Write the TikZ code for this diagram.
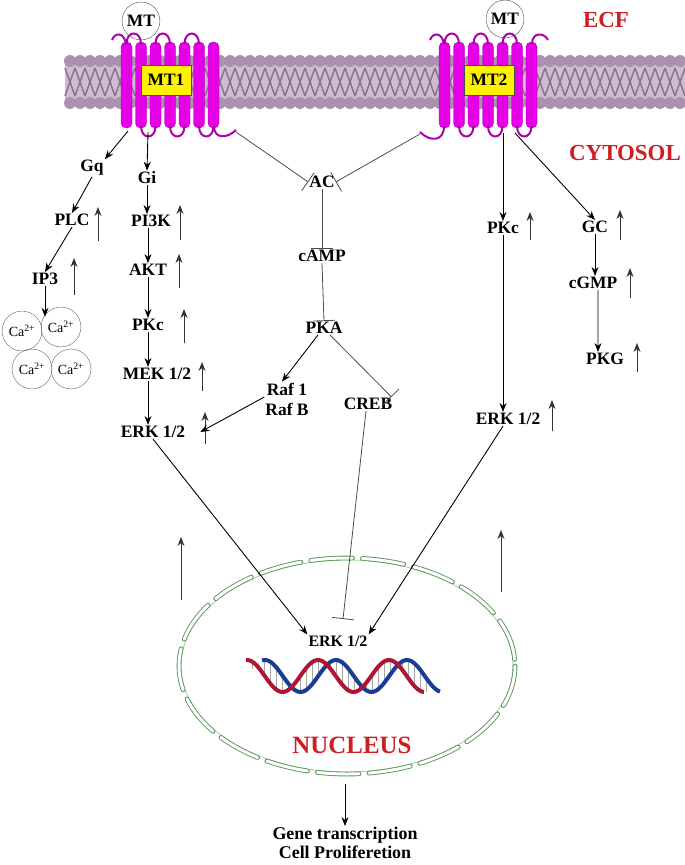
\documentclass[tikz,border=0pt]{standalone}
\usepackage{fontspec}
\setmainfont{Liberation Serif}
\usetikzlibrary{arrows.meta}
\definecolor{lip}{RGB}{170,145,175}
\definecolor{lipd}{RGB}{140,115,145}
\definecolor{ecf}{RGB}{205,30,35}
\definecolor{mag}{RGB}{230,0,230}
\definecolor{dnar}{RGB}{175,20,50}
\definecolor{dnab}{RGB}{25,60,150}
\definecolor{nuc}{RGB}{90,150,90}
\begin{document}
\begin{tikzpicture}[x=1bp,y=-1bp,
  lab/.style={font=\fontsize{17.5}{19}\selectfont\bfseries, inner sep=1pt},
  red/.style={font=\fontsize{23}{24}\selectfont\bfseries, text=ecf},
  act/.style={-{Stealth[length=9pt,width=7pt]}, line width=0.9pt},
  up/.style={-{Stealth[length=9pt,width=7pt]}, line width=0.9pt, black!80},
  inh/.style={-{Bar[width=22pt]}, line width=0.8pt, black!70},
  hel/.style={fill=mag, draw=mag!75!black, rounded corners=5pt},
  loop/.style={draw=mag!75!black, line width=2pt}]
\useasboundingbox (0,0) rectangle (685,865);
% membrane
\fill[lip!60] (65,58) rectangle (685,106);
\foreach \i in {0,...,61}{
  \fill[lip] (70+10*\i,61) circle (6);
  \fill[lip] (70+10*\i,103) circle (6);
  \draw[lipd, line width=1.5pt] (65+10*\i,68) -- (75+10*\i,96) (75+10*\i,68) -- (65+10*\i,96);
}
% receptors
\foreach \xs in {121,439}{
  \foreach \k in {0,...,6}{
    \fill[hel] (\xs+\k*14.5,42) rectangle ++(11,86);
  }
  \foreach \k in {0,2,4}{
    \draw[loop] (\xs+\k*14.5+5.5,44) .. controls (\xs+\k*14.5+5.5,30) and (\xs+\k*14.5+20,30) .. (\xs+\k*14.5+20,44);
  }
  \foreach \k in {1,3,5}{
    \draw[loop] (\xs+\k*14.5+5.5,126) .. controls (\xs+\k*14.5+5.5,140) and (\xs+\k*14.5+20,140) .. (\xs+\k*14.5+20,126);
  }
}
\draw[loop] (126,44) .. controls (124,32) and (115,32) .. (112,40);
\draw[loop] (214,126) .. controls (214,140) and (228,138) .. (236,130);
\draw[loop] (444,44) .. controls (442,32) and (433,32) .. (430,40);
\draw[loop] (532,44) .. controls (532,32) and (544,32) .. (548,40);
\draw[loop] (444,126) .. controls (444,142) and (430,142) .. (420,132);
\node[lab, fill=yellow, draw=black!70, minimum width=50pt, minimum height=30pt] (mt1) at (166,80) {MT1};
\node[lab, fill=yellow, draw=black!70, minimum width=50pt, minimum height=30pt] (mt2) at (489,80) {MT2};
\node[lab, draw=black!70, circle, minimum size=38pt, inner sep=0pt] (mta) at (141,21) {MT};
\node[lab, draw=black!70, circle, minimum size=38pt, inner sep=0pt] (mtb) at (505,19) {MT};
\node[red] (ecf) at (606,20) {ECF};
\node[red] (cyt) at (625,153) {CYTOSOL};
\coordinate (t1) at (236,132);
\coordinate (t2) at (420,134);
% left cascade
\node[lab] (gq) at (92,168) {Gq};
\node[lab] (gi) at (147,178) {Gi};
\node[lab] (plc) at (72,220) {PLC};
\node[lab] (ip3) at (45,279) {IP3};
\node[lab] (pi3k) at (151,221) {PI3K};
\node[lab] (akt) at (148,270) {AKT};
\node[lab] (pkc1) at (148,325) {PKc};
\node[lab] (mek) at (157,374) {MEK 1/2};
\node[lab] (erk1) at (153,432) {ERK 1/2};
\foreach \n/\x/\y in {c1/22/331,c2/61/327,c3/32/369,c4/71/369}{
  \node[circle, draw=black!60, minimum size=40pt, inner sep=0pt, font=\fontsize{14}{15}\selectfont] (\n) at (\x,\y) {Ca\textsuperscript{2+}};
}
\coordinate (r1a) at (128,131); \coordinate (r1b) at (148,132);
\draw[act] (r1a) -- (gq.north east);
\draw[act] (r1b) -- (gi.north);
\draw[act] (gq.south) -- (plc.north);
\draw[act] (plc.south) -- (ip3.north);
\draw[act] (ip3.south) -- (ip3.south |- c1.north east);
\draw[act] (gi.south) -- (gi.south |- pi3k.north);
\draw[act] (pi3k.south -| 148,0) -- (akt.north);
\draw[act] (akt) -- (pkc1);
\draw[act] (pkc1.south) -- (pkc1.south |- mek.north);
\draw[act] (mek.south -| pkc1.south) -- (erk1.north -| pkc1.south);
% up arrows
\foreach \n/\x/\ya/\yb in {u1/98/241/207,u2/74/295/258,u3/180/240/205,u4/179/288/254,u5/184/343/309,u6/202/391/362,u7/205/444/412,u8/530/240/212,u9/552/431/400,u10/620/240/210,u11/630/298/268,u12/637/372/343,u13/181/600/537,u14/501/592/530}{
  \coordinate (\n a) at (\x,\ya); \coordinate (\n b) at (\x,\yb);
  \draw[up] (\n a) -- (\n b);
}
% middle
\node[lab] (ac) at (322,182) {AC};
\node[lab] (camp) at (322,256) {cAMP};
\node[lab] (pka) at (324,328) {PKA};
\node[lab, align=center] (raf) at (287,399) {Raf 1\\[1pt]Raf B};
\node[lab] (creb) at (368,404) {CREB};
\draw[inh] (t1) -- (ac.west);
\draw[inh] (t2) -- (ac.east);
\draw[inh] (ac.south) -- (camp.north);
\draw[inh] (camp.south) -- (pka.north);
\draw[act] ([xshift=-6pt]pka.south) -- ([xshift=-5pt]raf.north);
\draw[inh] ([xshift=6pt]pka.south) -- ([xshift=-2pt]creb.north east);
\draw[act] ([yshift=2pt]raf.west) -- ([xshift=14pt]erk1.east);
% right
\node[lab] (pkc2) at (503,228) {PKc};
\node[lab] (erk2) at (508,419) {ERK 1/2};
\node[lab] (gc) at (595,227) {GC};
\node[lab] (cgmp) at (593,283) {cGMP};
\node[lab] (pkg) at (605,359) {PKG};
\coordinate (r2a) at (503,133); \coordinate (r2b) at (515,133);
\draw[act] (r2a) -- (pkc2.north);
\draw[act] (r2b) -- (gc.north);
\draw[act] (pkc2.south) -- (erk2.north -| pkc2.south);
\draw[act] (gc.south) -- (cgmp.north -| gc.south);
\draw[act] ([xshift=5pt]cgmp.south) -- (pkg.north -| 598,0);
% nucleus
\draw[nuc!50, line width=0.8pt] (347,666) ellipse (166 and 106);
\draw[nuc, double=white, double distance=3pt, line width=0.9pt, dash pattern=on 42pt off 10pt, line cap=round] (347,666) ellipse (168 and 108);
\node[lab, font=\fontsize{16}{17}\selectfont\bfseries] (erkn) at (338,641) {ERK 1/2};
\foreach \x in {252,258,...,436}{
  \draw[gray!70, line width=0.5pt] (\x,{676-16*cos((\x-318)*5.0704)}) -- (\x,{676-16*cos((\x-336)*5.0704)});
}
\draw[dnab, line width=4pt, smooth] plot[domain=262:440, samples=90] (\x,{676-16*cos((\x-336)*5.0704)});
\draw[dnar, line width=4pt, smooth] plot[domain=246:424, samples=90] (\x,{676-16*cos((\x-318)*5.0704)});
\node[red, font=\fontsize{25}{26}\selectfont\bfseries] (nucl) at (352,745) {NUCLEUS};
\draw[act] (erk1.south) -- (erkn.north west);
\draw[act] ([xshift=-5pt]erk2.south) -- (erkn.north east);
\coordinate (cb) at (343,619);
\draw[inh] ([xshift=-2pt]creb.south) -- (cb);
\coordinate (nb) at (345,784);
\node[lab, font=\fontsize{18}{19}\selectfont\bfseries, align=center] (out) at (345,843) {Gene transcription\\Cell Proliferetion};
\draw[act] (nb) -- (out.north);
\end{tikzpicture}
\end{document}
